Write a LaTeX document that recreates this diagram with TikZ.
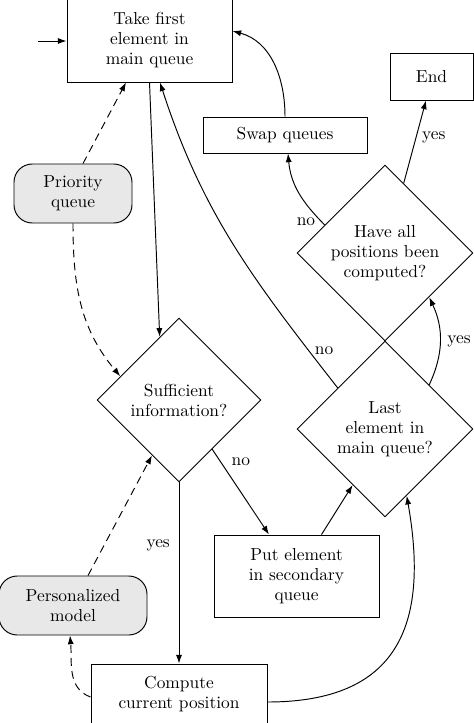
\documentclass[tikz,border=0pt]{standalone}
\usetikzlibrary{shapes.geometric,arrows.meta}
\newcommand\pxu{0.575pt}
\begin{document}
\begin{tikzpicture}[x=0.575pt,y=-0.575pt,
  every node/.style={font=\fontsize{10}{11.5}\selectfont},
  box/.style={draw, rectangle, align=center, inner sep=0pt, line width=0.55pt},
  dia/.style={draw, diamond, align=center, inner sep=0pt, aspect=1, line width=0.55pt},
  soft/.style={draw, rectangle, rounded corners=10.5pt, fill=gray!18, align=center, line width=0.55pt},
  arr/.style={-{Latex[length=5pt,width=3.5pt]}, line width=0.55pt},
  darr/.style={arr, dash pattern=on 4.5pt off 3pt}]
\useasboundingbox (0,0) rectangle (474,723);

\node[box, minimum width=165*\pxu, minimum height=84*\pxu] (take) at (149.5,40) {Take first\\element in\\main queue};
\node[box, minimum width=83*\pxu, minimum height=47*\pxu] (end) at (431.5,76.5) {End};
\node[box, minimum width=164*\pxu, minimum height=36*\pxu] (swap) at (285,135) {Swap queues};
\node[soft, minimum width=118*\pxu, minimum height=59*\pxu] (prio) at (73,193.5) {Priority\\queue};
\node[dia, minimum width=176*\pxu, minimum height=176*\pxu] (have) at (385,253) {Have all\\positions been\\computed?};
\node[dia, minimum width=164*\pxu, minimum height=164*\pxu] (suff) at (179,400) {Sufficient\\information?};
\node[dia, minimum width=176*\pxu, minimum height=176*\pxu] (last) at (385,429) {Last\\element in\\main queue?};
\node[box, minimum width=165*\pxu, minimum height=82*\pxu] (put) at (296.5,576) {Put element\\in secondary\\queue};
\node[box, minimum width=176*\pxu, minimum height=60*\pxu] (comp) at (179,694) {Compute\\current position};
\node[soft, minimum width=148*\pxu, minimum height=59*\pxu] (pers) at (73,605.5) {Personalized\\model};

\coordinate (in) at (38,41);
\draw[arr] (in) -- (in -| take.west);
\draw[arr] (take.south) -- (suff.107);
\draw[darr] ([xshift=10*\pxu]prio.north) -- ([xshift=-23.5*\pxu]take.south);
\draw[darr] (prio.south) to[out=-90,in=130] (suff.158);
\draw[darr] ([xshift=15*\pxu]pers.north) -- (suff.244);
\draw[darr] ([yshift=-3*\pxu]comp.west) to[out=160,in=-85] ([xshift=-3*\pxu]pers.south);
\draw[arr] (suff.south) -- node[left, pos=0.35, inner sep=5pt]{yes} (comp.north);
\draw[arr] (suff.-56) -- node[right, pos=0.15, inner sep=6pt]{no} ([xshift=-27.5*\pxu]put.north);
\draw[arr] ([xshift=25*\pxu]put.north) -- (last.240);
\draw[arr] ([yshift=-8*\pxu]comp.east) to[out=0,in=-80,looseness=1.35] (last.-72);
\draw[arr] (last.45) to[out=65,in=-65] node[right, inner sep=4pt]{yes} (have.-45);
\draw[arr] (last.139) to[out=128,in=-72] node[right,pos=0.12]{no} ([xshift=10.5*\pxu]take.south);
\draw[arr] (have.155) to[out=135,in=-85] node[left,pos=0.05]{no} ([xshift=3*\pxu]swap.south);
\draw[arr] (swap.north) to[out=90,in=-15] ([yshift=9*\pxu]take.east);
\draw[arr] (have.75) -- node[right,pos=0.55]{yes} ([xshift=-5.5*\pxu]end.south);
\end{tikzpicture}
\end{document}
